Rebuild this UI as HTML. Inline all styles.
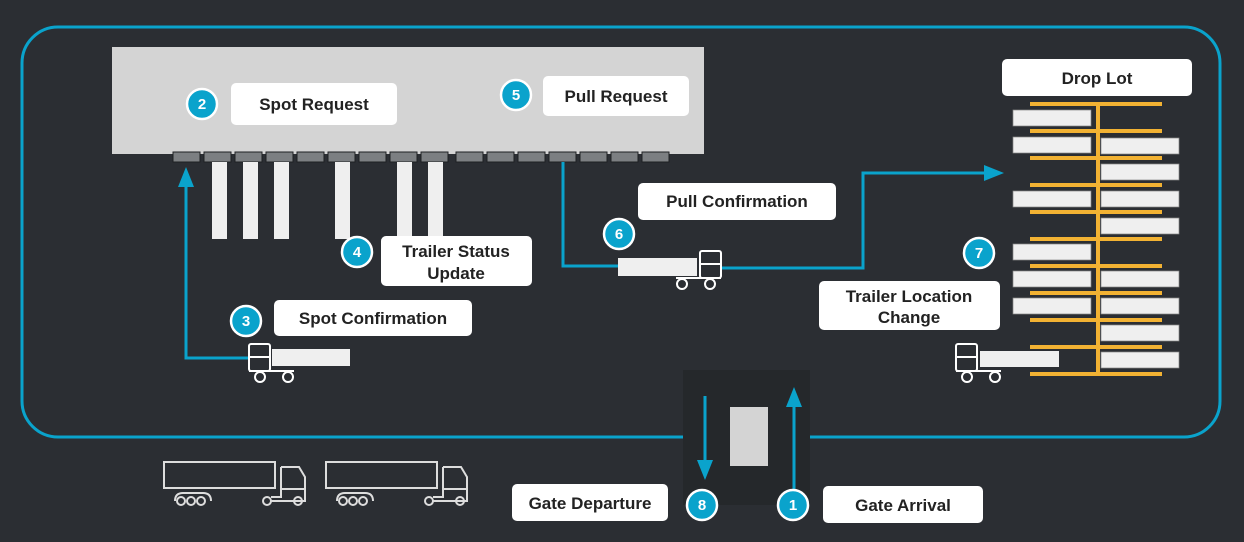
<!DOCTYPE html>
<html><head><meta charset="utf-8"><style>
html,body{margin:0;padding:0;background:#2b2e33;}
svg{display:block}
text{font-family:"Liberation Sans",Arial,sans-serif;font-weight:bold;fill:#222}
.n{fill:#fff;font-size:15px;text-anchor:middle}
.l{font-size:17px;text-anchor:middle}
</style></head><body>
<svg width="1244" height="542" viewBox="0 0 1244 542" xmlns="http://www.w3.org/2000/svg">
<defs>
<marker id="ah" markerWidth="20" markerHeight="16" refX="2" refY="8" orient="auto" markerUnits="userSpaceOnUse" viewBox="0 0 20 16"><path d="M0,0 L20,8 L0,16z" fill="#0aa3cc"/></marker>
<g id="tk" fill="none" stroke="#fff" stroke-width="2">
<rect x="1" y="1" width="21" height="27" rx="2"/><line x1="1" y1="14" x2="22" y2="14"/>
<line x1="1" y1="28" x2="46" y2="28"/><circle cx="12" cy="34" r="5"/><circle cx="40" cy="34" r="5"/></g>
<g id="semi" fill="none" stroke="#ddd" stroke-width="2">
<rect x="1" y="1" width="111" height="26"/>
<path d="M118,6 h18 l6,10 v24 h-10 M118,6 v30 h-10 M118,28 h24"/>
<line x1="108" y1="40" x2="136" y2="40"/>
<circle cx="104" cy="40" r="4"/><circle cx="135" cy="40" r="4"/>
<circle cx="18" cy="40" r="4"/><circle cx="28" cy="40" r="4"/><circle cx="38" cy="40" r="4"/>
<path d="M12,40 q0,-8 8,-8 h20 q8,0 8,8"/></g>
</defs>
<rect x="22" y="27" width="1198" height="410" rx="36" fill="none" stroke="#0aa3cc" stroke-width="3"/>
<rect x="112" y="47" width="592" height="107" fill="#d4d4d4"/>
<g fill="#7c7f82" stroke="#1e2023" stroke-width="1">
<rect x="173" y="152" width="27" height="10"/><rect x="204" y="152" width="27" height="10"/><rect x="235" y="152" width="27" height="10"/><rect x="266" y="152" width="27" height="10"/><rect x="297" y="152" width="27" height="10"/><rect x="328" y="152" width="27" height="10"/><rect x="359" y="152" width="27" height="10"/><rect x="390" y="152" width="27" height="10"/><rect x="421" y="152" width="27" height="10"/>
<rect x="456" y="152" width="27" height="10"/><rect x="487" y="152" width="27" height="10"/><rect x="518" y="152" width="27" height="10"/><rect x="549" y="152" width="27" height="10"/><rect x="580" y="152" width="27" height="10"/><rect x="611" y="152" width="27" height="10"/><rect x="642" y="152" width="27" height="10"/>
</g>
<g fill="#efefef">
<rect x="212" y="162" width="15" height="77"/><rect x="243" y="162" width="15" height="77"/><rect x="274" y="162" width="15" height="77"/><rect x="335" y="162" width="15" height="77"/><rect x="397" y="162" width="15" height="77"/><rect x="428" y="162" width="15" height="77"/>
</g>
<g fill="none" stroke="#0aa3cc" stroke-width="3">
<path d="M250,358 H186 V185" marker-end="url(#ah)"/>
<path d="M563,162 V266 H618"/>
<path d="M722,268 H863 V173 H986" marker-end="url(#ah)"/>
</g>
<rect x="272" y="349" width="78" height="17" fill="#efefef"/>
<use href="#tk" x="248" y="343"/>
<rect x="618" y="258" width="79" height="18" fill="#efefef"/>
<use href="#tk" x="700" y="250" transform="translate(1422,0) scale(-1,1)"/>
<rect x="980" y="351" width="79" height="16" fill="#efefef"/>
<use href="#tk" x="955" y="343"/>
<g fill="#f2b233">
<rect x="1096" y="102" width="4" height="272"/>
<rect x="1030" y="102" width="132" height="4"/><rect x="1030" y="129" width="132" height="4"/><rect x="1030" y="156" width="132" height="4"/><rect x="1030" y="183" width="132" height="4"/><rect x="1030" y="210" width="132" height="4"/><rect x="1030" y="237" width="132" height="4"/><rect x="1030" y="264" width="132" height="4"/><rect x="1030" y="291" width="132" height="4"/><rect x="1030" y="318" width="132" height="4"/><rect x="1030" y="345" width="132" height="4"/><rect x="1030" y="372" width="132" height="4"/>
</g>
<g fill="#efefef" stroke="#888" stroke-width="0.7">
<rect x="1013" y="110" width="78" height="16"/><rect x="1013" y="137" width="78" height="16"/><rect x="1013" y="191" width="78" height="16"/><rect x="1013" y="244" width="78" height="16"/><rect x="1013" y="271" width="78" height="16"/><rect x="1013" y="298" width="78" height="16"/>
<rect x="1101" y="138" width="78" height="16"/><rect x="1101" y="164" width="78" height="16"/><rect x="1101" y="191" width="78" height="16"/><rect x="1101" y="218" width="78" height="16"/><rect x="1101" y="271" width="78" height="16"/><rect x="1101" y="298" width="78" height="16"/><rect x="1101" y="325" width="78" height="16"/><rect x="1101" y="352" width="78" height="16"/>
</g>
<rect x="683" y="370" width="127" height="135" fill="#25282b"/>
<rect x="730" y="407" width="38" height="59" fill="#d4d4d4"/>
<g fill="none" stroke="#0aa3cc" stroke-width="3">
<path d="M705,396 V462" marker-end="url(#ah)"/>
<path d="M794,492 V405" marker-end="url(#ah)"/>
</g>
<use href="#semi" x="163" y="461"/>
<use href="#semi" x="325" y="461"/>
<g fill="#fff">
<rect x="231" y="83" width="166" height="42" rx="5"/>
<rect x="543" y="76" width="146" height="40" rx="5"/>
<rect x="638" y="183" width="198" height="37" rx="5"/>
<rect x="381" y="236" width="151" height="50" rx="5"/>
<rect x="274" y="300" width="198" height="36" rx="5"/>
<rect x="819" y="281" width="181" height="49" rx="5"/>
<rect x="1002" y="59" width="190" height="37" rx="5"/>
<rect x="512" y="484" width="156" height="37" rx="5"/>
<rect x="823" y="486" width="160" height="37" rx="5"/>
</g>
<text class="l" x="314" y="110">Spot Request</text>
<text class="l" x="616" y="102">Pull Request</text>
<text class="l" x="737" y="207">Pull Confirmation</text>
<text class="l" x="456" y="257">Trailer Status</text>
<text class="l" x="456" y="279">Update</text>
<text class="l" x="373" y="324">Spot Confirmation</text>
<text class="l" x="909" y="302">Trailer Location</text>
<text class="l" x="909" y="323">Change</text>
<text class="l" x="1097" y="84">Drop Lot</text>
<text class="l" x="590" y="509">Gate Departure</text>
<text class="l" x="903" y="511">Gate Arrival</text>
<g fill="#0aa3cc" stroke="#fff" stroke-width="2.5">
<circle cx="202" cy="104" r="15"/><circle cx="516" cy="95" r="15"/><circle cx="619" cy="234" r="15"/><circle cx="357" cy="252" r="15"/><circle cx="246" cy="321" r="15"/><circle cx="979" cy="253" r="15"/><circle cx="702" cy="505" r="15"/><circle cx="793" cy="505" r="15"/>
</g>
<text class="n" x="202" y="109">2</text><text class="n" x="516" y="100">5</text><text class="n" x="619" y="239">6</text><text class="n" x="357" y="257">4</text><text class="n" x="246" y="326">3</text><text class="n" x="979" y="258">7</text><text class="n" x="702" y="510">8</text><text class="n" x="793" y="510">1</text>
</svg>
</body></html>
